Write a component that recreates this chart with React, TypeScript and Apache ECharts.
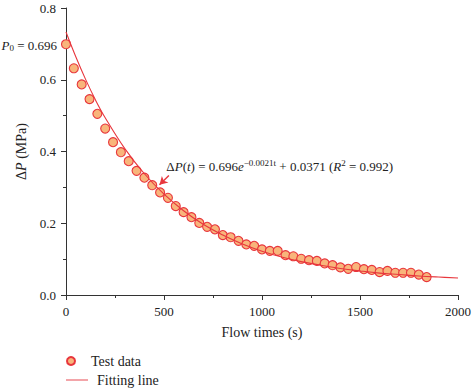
import React, { useEffect, useRef } from "react";
import * as echarts from "echarts";

// Test data: flow time (s) and measured pressure drop (MPa)
const testTimes = [
  0, 40, 80, 120, 160, 200, 240, 280, 320, 360, 400, 440, 480, 520, 560, 600,
  640, 680, 720, 760, 800, 840, 880, 920, 960, 1000, 1040, 1080, 1120, 1160,
  1200, 1240, 1280, 1320, 1360, 1400, 1440, 1480, 1520, 1560, 1600, 1640, 1680,
  1720, 1760, 1800, 1840,
];
const testValues = [
  0.699, 0.632, 0.587, 0.546, 0.505, 0.464, 0.426, 0.398, 0.373, 0.346, 0.327,
  0.306, 0.286, 0.271, 0.248, 0.231, 0.217, 0.201, 0.19, 0.183, 0.167, 0.161,
  0.151, 0.141, 0.137, 0.127, 0.123, 0.123, 0.111, 0.108, 0.101, 0.097, 0.095,
  0.088, 0.083, 0.077, 0.073, 0.078, 0.072, 0.07, 0.064, 0.067, 0.062, 0.062,
  0.062, 0.057, 0.05,
];

// Fitting line
const fitTimes = [
  0, 50, 100, 150, 200, 300, 400, 500, 600, 700, 800, 900, 1000, 1100, 1200,
  1300, 1400, 1500, 1600, 1700, 1800, 1900, 2000,
];
const fitValues = [
  0.733, 0.664, 0.601, 0.544, 0.494, 0.408, 0.338, 0.281, 0.235, 0.197, 0.167,
  0.142, 0.122, 0.106, 0.093, 0.083, 0.074, 0.067, 0.061, 0.057, 0.053, 0.05,
  0.0475,
];

const xTicks = [0, 500, 1000, 1500, 2000];
const yTicks = [0, 0.2, 0.4, 0.6, 0.8];

const P0 = 0.696;
const arrowFrom = [525, 0.333];
const arrowTo = [477, 0.307];
const eqAnchor = [512, 0.357];

const FONT = "'Liberation Serif', 'DejaVu Serif', serif";
const RED = "#e8363c";
const ORANGE = "#f8b57b";

export default function App() {
  const ref = useRef<HTMLDivElement>(null);

  useEffect(() => {
    if (!ref.current) return;
    const chart = echarts.init(ref.current, undefined, { renderer: "svg" });
    const legendText = { fontFamily: FONT, fontSize: 14, color: "#222", padding: [0, 0, 0, 4] };
    const option: any = {
      animation: false,
      backgroundColor: "#fff",
      grid: { left: 66, right: 14, top: 8, bottom: 96, containLabel: false },
      legend: [
        {
          orient: "vertical",
          left: 66,
          top: 354,
          padding: 0,
          itemWidth: 22,
          itemHeight: 8,
          textStyle: legendText,
          data: [{ name: "Test data", icon: "circle" }],
        },
        {
          orient: "vertical",
          left: 66,
          top: 373,
          padding: 0,
          itemWidth: 22,
          itemHeight: 1.4,
          textStyle: legendText,
          data: [{ name: "Fitting line", icon: "rect" }],
        },
      ],
      xAxis: {
        type: "value",
        min: xTicks[0],
        max: xTicks[xTicks.length - 1],
        interval: 500,
        name: "Flow times (s)",
        nameLocation: "middle",
        nameGap: 30,
        nameTextStyle: { fontFamily: FONT, fontSize: 14, color: "#222" },
        axisLine: { show: true, lineStyle: { color: "#333", width: 1 } },
        axisTick: { show: true, length: 5, lineStyle: { color: "#333" } },
        minorTick: { show: true, splitNumber: 2, length: 3, lineStyle: { color: "#333" } },
        splitLine: { show: false },
        axisLabel: {
          fontFamily: FONT,
          fontSize: 13,
          color: "#222",
          margin: 10,
          formatter: (v: number) => String(v),
        },
      },
      yAxis: {
        type: "value",
        min: yTicks[0],
        max: yTicks[yTicks.length - 1],
        interval: 0.2,
        name: "{d|Δ}{i|P}{d| (MPa)}",
        nameLocation: "middle",
        nameGap: 33,
        nameRotate: 90,
        nameTextStyle: {
          fontFamily: FONT,
          fontSize: 14,
          color: "#222",
          rich: {
            d: { fontFamily: FONT, fontSize: 14, color: "#222" },
            i: { fontFamily: FONT, fontSize: 14, color: "#222", fontStyle: "italic" },
          },
        },
        axisLine: { show: true, lineStyle: { color: "#333", width: 1 } },
        axisTick: { show: true, length: 5, lineStyle: { color: "#333" } },
        minorTick: { show: true, splitNumber: 2, length: 3, lineStyle: { color: "#333" } },
        splitLine: { show: false },
        axisLabel: {
          fontFamily: FONT,
          fontSize: 13,
          color: "#222",
          margin: 10,
          formatter: (v: number) => v.toFixed(1),
        },
      },
      series: [
        {
          name: "Fitting line",
          type: "line",
          data: fitTimes.map((t, i) => [t, fitValues[i]]),
          smooth: 0.4,
          showSymbol: false,
          symbol: "none",
          z: 3,
          lineStyle: { color: RED, width: 1.1 },
          itemStyle: { color: "#ee7f84" },
          markLine: {
            silent: true,
            symbol: ["none", "arrow"],
            symbolSize: [7, 8],
            label: { show: false },
            lineStyle: { color: RED, width: 1.4, type: "solid" },
            data: [[{ coord: arrowFrom }, { coord: arrowTo }]],
          },
        },
        {
          name: "Test data",
          type: "scatter",
          data: testTimes.map((t, i) => [t, testValues[i]]),
          symbol: "circle",
          symbolSize: 9,
          z: 2,
          itemStyle: { color: ORANGE, borderColor: RED, borderWidth: 1.1, opacity: 1 },
        },
      ],
    };
    chart.setOption(option);

    const p0 = chart.convertToPixel({ gridIndex: 0 }, [0, P0]) as number[];
    const eq = chart.convertToPixel({ gridIndex: 0 }, eqAnchor) as number[];
    chart.setOption({
      graphic: [
        {
          type: "text",
          x: p0[0] - 9,
          y: p0[1],
          style: {
            text: "{i|P}{s|0}{n| = 0.696}",
            align: "right",
            verticalAlign: "middle",
            fill: "#222",
            font: `13px ${FONT}`,
            rich: {
              i: { fontFamily: FONT, fontSize: 13, fontStyle: "italic", fill: "#222" },
              s: { fontFamily: FONT, fontSize: 9, fill: "#222", verticalAlign: "bottom", padding: [6, 0, 0, 0] },
              n: { fontFamily: FONT, fontSize: 13, fill: "#222" },
            },
          },
        },
        {
          type: "text",
          x: eq[0],
          y: eq[1],
          style: {
            text: "{n|Δ}{i|P}{n|(}{i|t}{n|) = 0.696}{i|e}{s|−0.0021t}{n| + 0.0371 (}{i|R}{s|2}{n| = 0.992)}",
            align: "left",
            verticalAlign: "middle",
            fill: "#222",
            font: `13px ${FONT}`,
            rich: {
              n: { fontFamily: FONT, fontSize: 13, fill: "#222" },
              i: { fontFamily: FONT, fontSize: 13, fontStyle: "italic", fill: "#222" },
              s: { fontFamily: FONT, fontSize: 9, fill: "#222", verticalAlign: "top", padding: [0, 0, 7, 0] },
            },
          },
        },
      ],
    });

    return () => chart.dispose();
  }, []);

  return (
    <div
      ref={ref}
      style={{ width: 474, height: 391, position: "fixed", left: 0, top: 0 }}
    />
  );
}
